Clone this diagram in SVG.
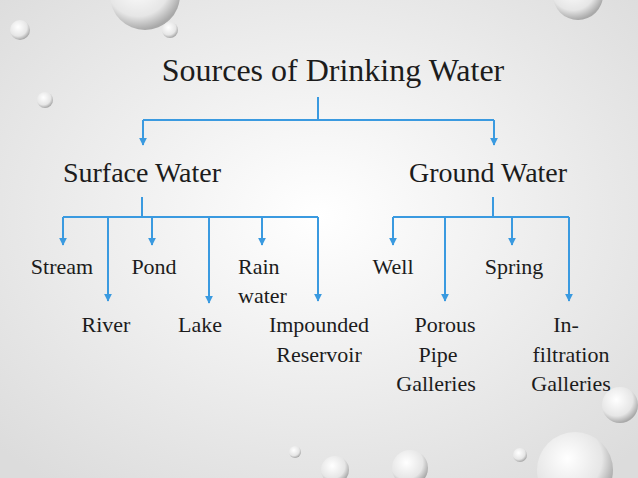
<svg xmlns="http://www.w3.org/2000/svg" width="638" height="478" viewBox="0 0 638 478">
<defs>
<radialGradient id="bg" cx="50%" cy="45%" r="70%"><stop offset="0" stop-color="#ffffff"/><stop offset="1" stop-color="#dcdcdc"/></radialGradient>
<radialGradient id="drop" cx="40%" cy="35%" r="65%"><stop offset="0" stop-color="#ffffff"/><stop offset="0.7" stop-color="#e6e6e6"/><stop offset="1" stop-color="#a9a9a9"/></radialGradient>
<marker id="ah" viewBox="0 0 10 10" refX="9" refY="5" markerWidth="4" markerHeight="4" orient="auto"><path d="M0,0L10,5L0,10z" fill="#3a9ae0"/></marker>
<style>
text{font-family:"Liberation Serif","Times New Roman",serif;fill:#1c1c1c}
.h1{font-size:32px}.h2{font-size:28px}.t{font-size:22px}
.c line,.c path{stroke:#3a9ae0;stroke-width:2;fill:none}
.d{fill:url(#drop)}
</style>
</defs>
<rect width="638" height="478" fill="url(#bg)"/>
<g id="drops">
<circle class="d" cx="145" cy="-5" r="35"/><circle class="d" cx="45" cy="100" r="8"/><circle class="d" cx="170" cy="30" r="8"/>
<circle class="d" cx="578" cy="-5" r="25"/><circle class="d" cx="620" cy="405" r="18"/><circle class="d" cx="575" cy="470" r="38"/>
<circle class="d" cx="335" cy="470" r="14"/><circle class="d" cx="410" cy="468" r="18"/><circle class="d" cx="295" cy="452" r="6"/>
<circle class="d" cx="20" cy="30" r="10"/><circle class="d" cx="520" cy="455" r="7"/>
</g>
<g class="c" id="connectors">
<line x1="318" y1="97" x2="318" y2="120"/><line x1="143" y1="120" x2="494" y2="120"/>
<line x1="143" y1="120" x2="143" y2="145" marker-end="url(#ah)"/><line x1="494" y1="120" x2="494" y2="145" marker-end="url(#ah)"/>
<line x1="142" y1="197" x2="142" y2="217"/><line x1="63" y1="217" x2="318" y2="217"/>
<line x1="63" y1="217" x2="63" y2="245" marker-end="url(#ah)"/>
<line x1="108" y1="217" x2="108" y2="301" marker-end="url(#ah)"/>
<line x1="152" y1="217" x2="152" y2="245" marker-end="url(#ah)"/>
<line x1="209" y1="217" x2="209" y2="303" marker-end="url(#ah)"/>
<line x1="262" y1="217" x2="262" y2="245" marker-end="url(#ah)"/>
<line x1="318" y1="217" x2="318" y2="301" marker-end="url(#ah)"/>
<line x1="493" y1="197" x2="493" y2="217"/><line x1="393" y1="217" x2="569" y2="217"/>
<line x1="393" y1="217" x2="393" y2="245" marker-end="url(#ah)"/>
<line x1="445" y1="217" x2="445" y2="301" marker-end="url(#ah)"/>
<line x1="512" y1="217" x2="512" y2="245" marker-end="url(#ah)"/>
<line x1="569" y1="217" x2="569" y2="301" marker-end="url(#ah)"/>
</g>
<g id="title"><text class="h1" x="333" y="81" text-anchor="middle">Sources of Drinking Water</text></g>
<g id="surface"><text class="h2" x="142" y="182" text-anchor="middle">Surface Water</text></g>
<g id="ground"><text class="h2" x="488" y="182" text-anchor="middle">Ground Water</text></g>
<g id="stream"><text class="t" x="62" y="274" text-anchor="middle">Stream</text></g>
<g id="pond"><text class="t" x="154" y="274" text-anchor="middle">Pond</text></g>
<g id="rain"><text class="t" x="238" y="274">Rain</text><text class="t" x="238" y="303">water</text></g>
<g id="river"><text class="t" x="106" y="332" text-anchor="middle">River</text></g>
<g id="lake"><text class="t" x="200" y="332" text-anchor="middle">Lake</text></g>
<g id="impounded"><text class="t" x="319" y="332" text-anchor="middle">Impounded</text><text class="t" x="319" y="362" text-anchor="middle">Reservoir</text></g>
<g id="well"><text class="t" x="393" y="274" text-anchor="middle">Well</text></g>
<g id="spring"><text class="t" x="514" y="274" text-anchor="middle">Spring</text></g>
<g id="porous"><text class="t" x="445" y="332" text-anchor="middle">Porous</text><text class="t" x="438" y="362" text-anchor="middle">Pipe</text><text class="t" x="436" y="391" text-anchor="middle">Galleries</text></g>
<g id="infiltration"><text class="t" x="566" y="332" text-anchor="middle">In-</text><text class="t" x="571" y="362" text-anchor="middle">filtration</text><text class="t" x="571" y="391" text-anchor="middle">Galleries</text></g>
</svg>
